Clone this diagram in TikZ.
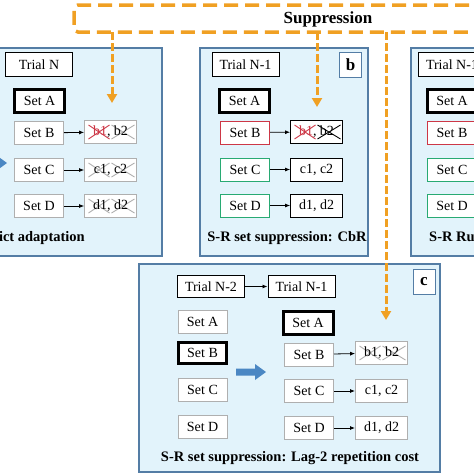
\documentclass[tikz,border=0pt]{standalone}
\usepackage{fontspec}
\setmainfont{Liberation Serif}
\usetikzlibrary{arrows.meta,calc}
\definecolor{panelfill}{RGB}{226,243,251}
\definecolor{paneldraw}{RGB}{84,125,165}
\definecolor{sorange}{RGB}{240,160,35}
\definecolor{sred}{RGB}{205,55,70}
\definecolor{sgreen}{RGB}{40,170,115}
\definecolor{sgray}{RGB}{175,175,175}
\definecolor{sblue}{RGB}{75,135,195}
\begin{document}
\begin{tikzpicture}[x=1pt,y=-1pt,
  panel/.style={draw=paneldraw, fill=panelfill, line width=1.2pt},
  box/.style={draw, fill=white, minimum width=49pt, minimum height=23pt, inner sep=0pt,
    font=\fontsize{14}{15}\selectfont, line width=0.8pt},
  graybox/.style={box, draw=sgray, line width=1pt},
  redbox/.style={box, draw=sred, line width=1pt},
  greenbox/.style={box, draw=sgreen, line width=1pt},
  thickbox/.style={box, line width=3pt, minimum width=50pt, minimum height=23pt},
  trialbox/.style={box, minimum width=67pt, minimum height=24pt, line width=1pt},
  xbox/.style={box, minimum width=52pt, minimum height=23pt, path picture={
    \draw[line width=0.9pt,#1]
      ([shift={(-22pt,7pt)}]path picture bounding box.center) -- ([shift={(-1pt,-7pt)}]path picture bounding box.center)
      ([shift={(-22pt,-7pt)}]path picture bounding box.center) -- ([shift={(-1pt,7pt)}]path picture bounding box.center);
    \draw[line width=0.9pt]
      ([shift={(1pt,7pt)}]path picture bounding box.center) -- ([shift={(24pt,-7pt)}]path picture bounding box.center)
      ([shift={(1pt,-7pt)}]path picture bounding box.center) -- ([shift={(24pt,7pt)}]path picture bounding box.center);}},
  rbox/.style={box, minimum width=52pt, minimum height=23pt},
  tag/.style={draw=paneldraw, fill=white, line width=1pt, minimum width=22pt, minimum height=25pt,
    inner sep=0pt, font=\bfseries\fontsize{17}{18}\selectfont},
  caption/.style={font=\bfseries\fontsize{14.5}{16}\selectfont, inner sep=0pt},
  conn/.style={-{Latex[length=5pt,width=4pt]}, line width=0.8pt},
  odash/.style={draw=sorange, line width=3.5pt, dash pattern=on 14pt off 7pt},
  oarrow/.style={draw=sorange, line width=3pt, dash pattern=on 8pt off 3pt,
    -{Triangle[length=9pt,width=10pt]}, sorange},
  blockarrow/.style={fill=sblue}
]
\useasboundingbox (0,0) rectangle (474,474);
\clip (0,0) rectangle (474,474);

% ---------- panels ----------
\path[panel] (-10,48) rectangle (162,256);
\path[panel] (200,48) rectangle (368,256);
\path[panel] (411,48) rectangle (490,256);
\path[panel] (139,264) rectangle (440,472);

% ---------- panel a ----------
\node[trialbox] (aT) at (39,64.5) {Trial N};
\node[thickbox] (aA) at (39.5,101) {Set A};
\node[graybox] (aB) at (39,133) {Set B};
\node[graybox] (aC) at (39,170) {Set C};
\node[graybox] (aD) at (39,206) {Set D};
\node[xbox=sred, draw=sgray] (aXB) at (110.5,132) {\textcolor{sred}{b1}, b2};
\node[xbox, draw=sgray] (aXC) at (110.5,170) {c1, c2};
\node[xbox, draw=sgray] (aXD) at (110.5,206) {d1, d2};
\draw[conn] (aB) -- (aXB);
\draw[conn] (aC) -- (aXC);
\draw[conn] (aD) -- (aXD);
\node[caption, anchor=east] (aCap) at (85,238) {Conflict adaptation};
\fill[blockarrow] (-25,159) -- (-4,159) -- (-4,155) -- (7,163) -- (-4,171) -- (-4,167) -- (-25,167) -- cycle;

% ---------- panel b ----------
\node[trialbox] (bT) at (245.5,64.5) {Trial N-1};
\node[tag] (bTag) at (350.5,65) {b};
\node[thickbox] (bA) at (244.5,101) {Set A};
\node[redbox] (bB) at (245,132.5) {Set B};
\node[greenbox] (bC) at (245,169.5) {Set C};
\node[greenbox] (bD) at (245,205.5) {Set D};
\node[xbox=sred] (bXB) at (316.5,132) {\textcolor{sred}{b1}, b2};
\node[rbox] (bXC) at (316.5,169.5) {c1, c2};
\node[rbox] (bXD) at (316.5,205.5) {d1, d2};
\draw[conn] (bB) -- (bXB);
\draw[conn] (bC) -- (bXC);
\draw[conn] (bD) -- (bXD);
\node[caption] (bCap) at (287,238) {S-R set suppression: CbR};

% ---------- panel (right, cut) ----------
\node[trialbox, anchor=west] (dT) at (418,64.5) {Trial N-1};
\node[thickbox] (dA) at (452,101) {Set A};
\node[redbox] (dB) at (452,132.5) {Set B};
\node[greenbox] (dC) at (452,169.5) {Set C};
\node[greenbox] (dD) at (452,205.5) {Set D};
\node[caption, anchor=west] (dCap) at (429,238) {S-R Rule suppression};

% ---------- panel c ----------
\node[trialbox, minimum height=22pt] (cT2) at (211,286.5) {Trial N-2};
\node[trialbox, minimum height=22pt] (cT1) at (301.5,286.5) {Trial N-1};
\draw[conn] (cT2) -- (cT1);
\node[tag] (cTag) at (424,282) {c};
\node[graybox] (cLA) at (202.5,321.5) {Set A};
\node[thickbox, minimum width=48pt, minimum height=21pt] (cLB) at (202.5,353) {Set B};
\node[graybox] (cLC) at (202.5,390) {Set C};
\node[graybox] (cLD) at (202.5,427) {Set D};
\node[thickbox] (cRA) at (308,322.5) {Set A};
\node[graybox] (cRB) at (309,354.5) {Set B};
\node[graybox] (cRC) at (309,391) {Set C};
\node[graybox] (cRD) at (309,428) {Set D};
\node[xbox, draw=sgray] (cXB) at (381.5,353) {b1, b2};
\node[rbox, draw=sgray, line width=1pt] (cXC) at (381.5,391) {c1, c2};
\node[rbox, draw=sgray, line width=1pt] (cXD) at (381.5,428) {d1, d2};
\draw[conn] (cRB) -- (cXB);
\draw[conn] (cRC) -- (cXC);
\draw[conn] (cRD) -- (cXD);
\fill[blockarrow] (236,368.5) -- (255,368.5) -- (255,364) -- (266,372) -- (255,380) -- (255,375.5) -- (236,375.5) -- cycle;
\node[caption] (cCap) at (290,458) {S-R set suppression: Lag-2 repetition cost};

% ---------- suppression ----------
\draw[odash, rounded corners=4pt] (490,5) -- (74,5) -- (74,32) -- (490,32);
\node[font=\bfseries\fontsize{17}{18}\selectfont, inner sep=0pt] (sup) at (328,19) {Suppression};
\coordinate (s1) at (112,32);
\coordinate (s2) at (317,32);
\coordinate (s3) at (386,32);
\coordinate (e1) at (112,103);
\coordinate (e2) at (317,107);
\coordinate (e3) at (386,320);
\draw[oarrow] (s1) -- (e1);
\draw[oarrow] (s2) -- (e2);
\draw[oarrow] (s3) -- (e3);
\end{tikzpicture}
\end{document}
